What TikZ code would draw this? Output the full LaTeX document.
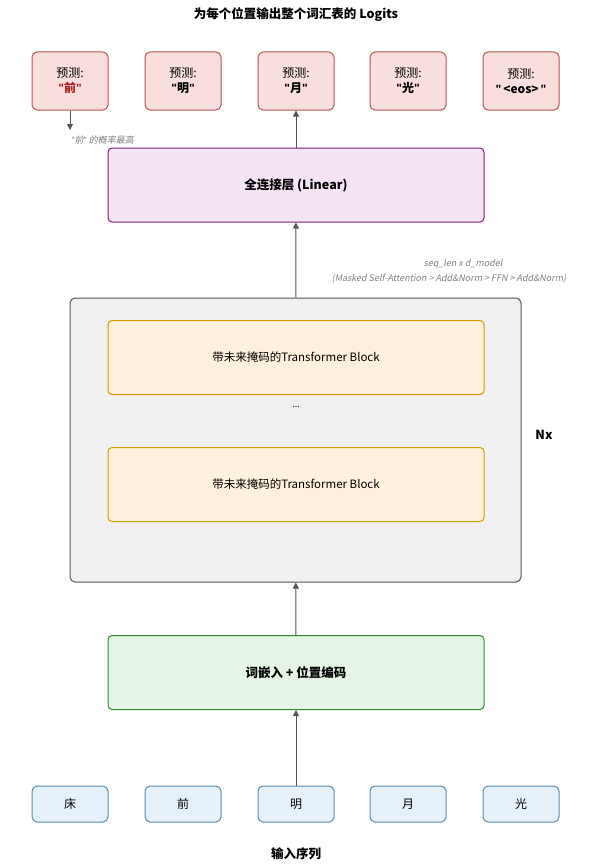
\documentclass[tikz,border=0pt]{standalone}
\usepackage{fontspec}
\setmainfont{Noto Sans CJK SC}
\newfontfamily\noteit{Noto Sans CJK SC}[FakeSlant=0.2]
\newfontfamily\latin{Liberation Sans}
\newcommand{\q}{{\latin"}}
\usetikzlibrary{positioning}
\usetikzlibrary{arrows.meta}
\definecolor{predfill}{HTML}{F8DEDC}
\definecolor{preddraw}{HTML}{B85450}
\definecolor{linfill}{HTML}{F4E4F4}
\definecolor{lindraw}{HTML}{7B1F7B}
\definecolor{nxfill}{HTML}{F0F0F0}
\definecolor{nxdraw}{HTML}{555555}
\definecolor{blkfill}{HTML}{FDF0DC}
\definecolor{blkdraw}{HTML}{D79B00}
\definecolor{embfill}{HTML}{E6F4E6}
\definecolor{embdraw}{HTML}{2E8B32}
\definecolor{infill}{HTML}{E6F0F8}
\definecolor{indraw}{HTML}{5B8BB0}
\definecolor{arr}{HTML}{555555}
\definecolor{red1}{HTML}{B22222}
\tikzset{
  pred/.style={draw=preddraw,fill=predfill,line width=1pt,rounded corners=5pt,minimum width=76pt,minimum height=58pt,align=center,font=\fontsize{12}{15}\selectfont},
  wide/.style={line width=1pt,rounded corners=4pt,minimum width=376pt,minimum height=74pt,align=center},
  tok/.style={draw=indraw,fill=infill,line width=1pt,rounded corners=5pt,minimum width=76pt,minimum height=36pt,font=\fontsize{12}{14}\selectfont},
  link/.style={draw=arr,line width=1pt,-{Triangle[length=6pt,width=6pt]}},
  note/.style={text=gray,font=\noteit\fontsize{9}{11}\selectfont}
}
\begin{document}
\begin{tikzpicture}[x=1pt,y=1pt,yscale=-1]
\useasboundingbox (0,0) rectangle (614,867);

% title
\node (title) at (296,15) {\fontsize{12.5}{14}\selectfont\bfseries 为每个位置输出整个词汇表的 Logits};

% predictions
\node[pred] (p1) at (70,81) {预测:\\{\bfseries\color{red1}\q 前\q}};
\node[pred] (p2) at (183,81) {预测:\\{\bfseries \q 明\q}};
\node[pred] (p3) at (296,81) {预测:\\{\bfseries \q 月\q}};
\node[pred] (p4) at (408,81) {预测:\\{\bfseries \q 光\q}};
\node[pred] (p5) at (521,81) {预测:\\{\bfseries \q\,<eos>\,\q}};
\coordinate (p1n) at (70,130);
\draw[link] (p1) -- (p1n);
\node[note,anchor=west] (best) at (68,140) {\q 前\q\ 的概率最高};

% linear
\node[wide,draw=lindraw,fill=linfill,font=\fontsize{12.5}{14}\selectfont\bfseries] (lin) at (296,185) {全连接层 (Linear)};

% Nx stack
\node[draw=nxdraw,fill=nxfill,line width=1pt,rounded corners=5pt,minimum width=451pt,minimum height=284pt] (nx) at (295.5,440) {};
\node[wide,draw=blkdraw,fill=blkfill,font=\fontsize{11.5}{13}\selectfont] (b1) at (296,357.5) {带未来掩码的Transformer Block};
\node (dots) at (296,407) {\fontsize{9}{10}\selectfont ...};
\node[wide,draw=blkdraw,fill=blkfill,font=\fontsize{11.5}{13}\selectfont] (b2) at (296,484.5) {带未来掩码的Transformer Block};
\node (nxlab) at (544,435) {\fontsize{12.5}{14}\selectfont\bfseries Nx};

% embedding
\node[wide,draw=embdraw,fill=embfill,font=\fontsize{12.5}{14}\selectfont\bfseries] (emb) at (296,672.5) {词嵌入 + 位置编码};

% inputs
\node[tok] (t1) at (70,804) {床};
\node[tok] (t2) at (183,804) {前};
\node[tok] (t3) at (296,804) {明};
\node[tok] (t4) at (408,804) {月};
\node[tok] (t5) at (521,804) {光};
\node (inlab) at (296,854) {\fontsize{12.5}{14}\selectfont\bfseries 输入序列};

% arrows
\draw[link] (t3) -- (emb);
\draw[link] (emb) -- (nx);
\draw[link] (nx) -- (lin);
\draw[link] (lin) -- (p3);
\node[note] (shape) at (463,264) {seq\_len x d\_model};
\node[note] (order) at (449,279) {(Masked Self-Attention > Add\&Norm > FFN > Add\&Norm)};
\end{tikzpicture}
\end{document}
